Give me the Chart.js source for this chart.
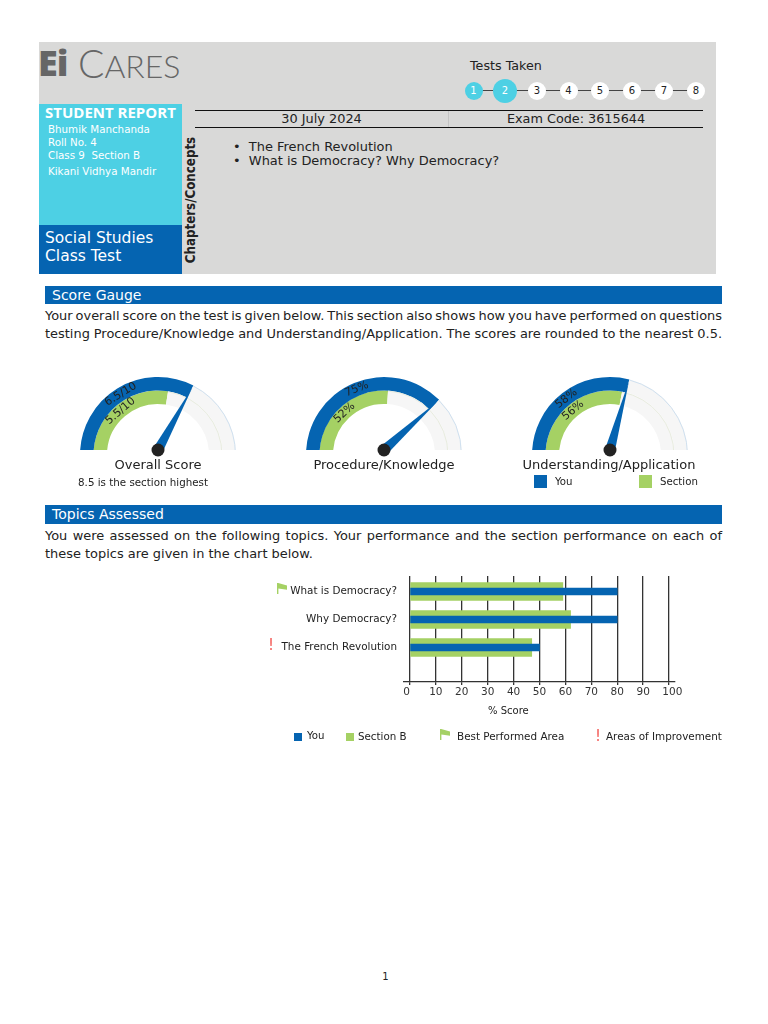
<!DOCTYPE html>
<html>
<head>
<meta charset="utf-8">
<script src="https://cdn.jsdelivr.net/npm/chart.js@4"></script>
<style>
html,body{margin:0;padding:0;background:#fff;}
body{width:768px;height:1024px;position:relative;overflow:hidden;font-family:"DejaVu Sans",sans-serif;color:#222;}
.a{position:absolute;white-space:nowrap;}
.c{transform:translateX(-50%);}
canvas{position:absolute;}
.band{position:absolute;left:45px;width:677px;background:#0564b1;color:#fff;font-size:14px;padding-left:7px;box-sizing:border-box;}
.para{position:absolute;left:45px;width:677px;font-size:12.95px;line-height:18px;word-spacing:-2.5px;text-align:justify;text-align-last:justify;}
.dot{position:absolute;border-radius:50%;background:#fff;color:#222;font-size:10px;text-align:center;transform:translate(-50%,-50%);}
.on{background:#4dd0e4;color:#fff;}
.flag{position:absolute;width:10px;height:11px;background:#a5d164;clip-path:polygon(0 0,12% 0,100% 22%,100% 62%,14% 50%,14% 100%,0 100%);}
.bang{position:absolute;color:#f4605c;font-size:15px;line-height:15px;}
.sq{position:absolute;}
</style>
</head>
<body>
<div class="a" style="left:39px;top:42px;width:677px;height:232px;background:#d9d9d8"></div>
<div class="a" style="left:39px;top:104px;width:143px;height:121px;background:#4dd0e4"></div>
<div class="a" style="left:39px;top:225px;width:143px;height:49px;background:#0564b1"></div>

<div class="a" style="left:38px;top:41px;font:900 36px/44px 'Open Sans';color:#666;letter-spacing:-1px">Ei</div>
<div class="a" style="left:78px;top:41px;font:300 39px/44px Lato;color:#666">C<span style="font-size:32px">ARES</span></div>

<div class="a" style="left:45px;top:103px;font:700 15px/18px 'Open Sans';color:#fff">STUDENT REPORT</div>
<div class="a" style="left:48px;top:123px;font-size:10.3px;line-height:13px;color:#fff">Bhumik Manchanda<br>Roll No. 4<br>Class 9&nbsp; Section B</div>
<div class="a" style="left:48px;top:165px;font-size:10.3px;line-height:13px;color:#fff">Kikani Vidhya Mandir</div>
<div class="a" style="left:45px;top:229px;font-size:15.5px;line-height:18px;color:#fff">Social Studies<br>Class Test</div>

<div class="a" style="left:470px;top:58px;font-size:12.7px">Tests Taken</div>
<div class="a" style="left:473px;top:90px;width:223px;height:1px;background:#444"></div>
<div id="steps"></div>

<div class="a" style="left:195px;top:110px;width:508px;height:1px;background:#111"></div>
<div class="a" style="left:195px;top:127px;width:508px;height:1px;background:#111"></div>
<div class="a" style="left:448px;top:111px;width:1px;height:16px;background:#c4c4c4"></div>
<div class="a c" style="left:321.5px;top:111px;font-size:12.9px;line-height:15px">30 July 2024</div>
<div class="a c" style="left:576px;top:111px;font-size:12.8px;line-height:15px">Exam Code: 3615644</div>
<div class="a" style="left:191px;top:200px;font:700 13.2px/16px 'DejaVu Sans Condensed','DejaVu Sans';transform:translate(-50%,-50%) rotate(-90deg)">Chapters/Concepts</div>
<div class="a" style="left:233px;top:139px;font-size:12.95px;line-height:14px;padding-top:1px">&bull;&nbsp; The French Revolution<br>&bull;&nbsp; What is Democracy? Why Democracy?</div>

<div class="band" style="top:286px;height:18px;line-height:18px">Score Gauge</div>
<div class="para" style="top:307px">Your overall score on the test is given below. This section also shows how you have performed on questions<br>testing Procedure/Knowledge and Understanding/Application. The scores are rounded to the nearest 0.5.</div>

<canvas id="g0" width="160" height="83" style="left:78px;top:375px"></canvas>
<canvas id="g1" width="160" height="83" style="left:304px;top:375px"></canvas>
<canvas id="g2" width="160" height="83" style="left:529.5px;top:375px"></canvas>

<div class="a c" style="left:158px;top:457px;font-size:13px">Overall Score</div>
<div class="a c" style="left:384px;top:457px;font-size:13px">Procedure/Knowledge</div>
<div class="a c" style="left:609px;top:457px;font-size:13px">Understanding/Application</div>
<div class="a c" style="left:143px;top:476px;font-size:10.3px">8.5 is the section highest</div>
<div class="sq" style="left:534px;top:475px;width:13px;height:13px;background:#0564b1"></div>
<div class="a" style="left:555px;top:476px;font-size:10.2px">You</div>
<div class="sq" style="left:639px;top:475px;width:13px;height:13px;background:#a5d164"></div>
<div class="a" style="left:660px;top:476px;font-size:10.2px">Section</div>

<div class="band" style="top:505px;height:19px;line-height:19px">Topics Assessed</div>
<div class="para" style="top:527px">You were assessed on the following topics. Your performance and the section performance on each of<br><span style="display:inline-block;text-align-last:left;word-spacing:0">these topics are given in the chart below.</span></div>

<canvas id="bars" width="430" height="150" style="left:260px;top:570px"></canvas>
<div class="flag" style="left:277px;top:583px"></div>
<div class="bang" style="left:268px;top:638px">!</div>
<div class="a" style="left:488px;top:705px;font-size:10px">% Score</div>

<div class="sq" style="left:294px;top:733px;width:8px;height:8px;background:#0564b1"></div>
<div class="a" style="left:307px;top:730px;font-size:10.2px">You</div>
<div class="sq" style="left:346px;top:733px;width:8px;height:8px;background:#a5d164"></div>
<div class="a" style="left:358px;top:730px;font-size:10.3px">Section B</div>
<div class="flag" style="left:440px;top:729px"></div>
<div class="a" style="left:457px;top:730px;font-size:10.4px">Best Performed Area</div>
<div class="bang" style="left:595px;top:729px">!</div>
<div class="a" style="left:606px;top:730px;font-size:10.4px">Areas of Improvement</div>

<div class="a c" style="left:385.5px;top:971px;font-size:10px">1</div>

<script>
const BLUE = '#0564b1';
const GREEN = '#a5d164';
const REST = '#f6f6f6';

// gauges, in percent of the half circle
const gaugeYou = [65, 75, 58];
const gaugeSection = [55, 52, 56];
const gaugeYouText = ['6.5/10', '75%', '58%'];
const gaugeSectionText = ['5.5/10', '52%', '56%'];

// topics chart
const topics = ['What is Democracy?', 'Why Democracy?', 'The French Revolution'];
const youScores = [80, 80, 50];
const sectionScores = [59, 62, 47];
const scoreTicks = [0, 10, 20, 30, 40, 50, 60, 70, 80, 90, 100];

// test steps in the header
const stepNumbers = [1, 2, 3, 4, 5, 6, 7, 8];
const stepsOn = [1, 2];
const stepX = [473.5, 505, 537, 568.5, 600, 632, 664, 696];

// the rings are cut off a bit above their centre, the needle turns on that cut
const CUT = 5;

stepNumbers.forEach(function (n, i) {
  const d = document.createElement('div');
  const size = n === 2 ? 24 : 18;
  d.className = 'dot' + (stepsOn.includes(n) ? ' on' : '');
  d.style.cssText = 'left:' + stepX[i] + 'px;top:91px;width:' + size + 'px;height:' + size + 'px;line-height:' + size + 'px';
  d.textContent = n;
  document.getElementById('steps').appendChild(d);
});

function arcText(ctx, arc, text) {
  const mid = (arc.startAngle + arc.endAngle) / 2;
  const r = (arc.innerRadius + arc.outerRadius) / 2;
  ctx.save();
  ctx.translate(arc.x + Math.cos(mid) * r, arc.y + Math.sin(mid) * r);
  ctx.rotate(mid + Math.PI / 2);
  ctx.fillStyle = '#222';
  ctx.font = '11px "DejaVu Sans"';
  ctx.textAlign = 'center';
  ctx.textBaseline = 'middle';
  ctx.fillText(text, 0, 0);
  ctx.restore();
}

const gaugePlugin = {
  id: 'gaugeExtras',
  beforeDatasetsDraw: function (chart) {
    const ctx = chart.ctx;
    const a = chart.getDatasetMeta(0).data[0];
    ctx.save();
    ctx.beginPath();
    ctx.rect(0, 0, chart.width, a.y - CUT);
    ctx.clip();
  },
  afterDatasetsDraw: function (chart) {
    const ctx = chart.ctx;
    const a = chart.getDatasetMeta(0).data[0];
    const b = chart.getDatasetMeta(1).data[0];

    // faint edges on the empty part of the rings
    ctx.lineWidth = 1;
    ctx.strokeStyle = '#cfe0ef';
    ctx.beginPath();
    ctx.arc(a.x, a.y, a.outerRadius - 0.5, a.endAngle, 0);
    ctx.stroke();
    ctx.strokeStyle = '#e8ecdf';
    ctx.beginPath();
    ctx.arc(b.x, b.y, b.outerRadius - 0.5, b.endAngle, 0);
    ctx.stroke();
    ctx.restore();
  },
  afterDraw: function (chart) {
    const ctx = chart.ctx;
    const i = chart.options.gaugeIndex;
    const a = chart.getDatasetMeta(0).data[0];
    const b = chart.getDatasetMeta(1).data[0];

    arcText(ctx, a, gaugeYouText[i]);
    arcText(ctx, b, gaugeSectionText[i]);

    // needle, from the pivot to the end of the blue ring
    const px = a.x;
    const py = a.y - CUT;
    const tx = a.x + Math.cos(a.endAngle) * (a.outerRadius - 2);
    const ty = a.y + Math.sin(a.endAngle) * (a.outerRadius - 2);
    const ang = Math.atan2(ty - py, tx - px);
    const nx = Math.cos(ang + Math.PI / 2) * 5;
    const ny = Math.sin(ang + Math.PI / 2) * 5;
    ctx.fillStyle = BLUE;
    ctx.beginPath();
    ctx.moveTo(px + nx, py + ny);
    ctx.lineTo(tx, ty);
    ctx.lineTo(px - nx, py - ny);
    ctx.fill();
    ctx.fillStyle = '#222';
    ctx.beginPath();
    ctx.arc(px, py, 6.5, 0, Math.PI * 2);
    ctx.fill();
  }
};

gaugeYou.forEach(function (v, i) {
  new Chart(document.getElementById('g' + i), {
    type: 'doughnut',
    data: {
      labels: ['Score', 'Rest'],
      datasets: [
        { data: [v, 100 - v], backgroundColor: [BLUE, REST], borderWidth: 0 },
        { data: [gaugeSection[i], 100 - gaugeSection[i]], backgroundColor: [GREEN, REST], borderWidth: 0 }
      ]
    },
    options: {
      gaugeIndex: i,
      responsive: false,
      animation: false,
      rotation: -90,
      circumference: 180,
      cutout: '65.4%',
      layout: { padding: { left: 2, right: 2, top: 2, bottom: 3 } },
      plugins: { legend: { display: false }, tooltip: { enabled: false } }
    },
    plugins: [gaugePlugin]
  });
});

// the end labels sit a little outside their grid lines
function scoreLabel(v) {
  if (v === scoreTicks[0]) return v + '\u00a0\u00a0';
  if (v === scoreTicks[scoreTicks.length - 1]) return '\u00a0\u00a0' + v;
  return v;
}

function noPad(ax) {
  ax.paddingTop = 0;
  ax.paddingBottom = 0;
  ax.paddingLeft = 0;
  ax.paddingRight = 0;
}

new Chart(document.getElementById('bars'), {
  type: 'bar',
  data: {
    datasets: [
      { label: 'You', data: youScores.map((v, i) => ({ x: v, y: i })), backgroundColor: BLUE, barThickness: 7 },
      { label: 'Section B', data: sectionScores.map((v, i) => ({ x: v, y: i })), backgroundColor: GREEN, barThickness: 18 }
    ]
  },
  options: {
    indexAxis: 'y',
    responsive: false,
    animation: false,
    grouped: false,
    layout: { padding: { top: 6, right: 15 } },
    plugins: { legend: { display: false }, tooltip: { enabled: false } },
    scales: {
      x: {
        type: 'linear',
        min: -2.3,
        max: 102.3,
        afterBuildTicks: function (ax) { ax.ticks = scoreTicks.map(v => ({ value: v })); },
        afterFit: function (ax) { ax.height = 38; noPad(ax); },
        grid: { color: '#333', lineWidth: 1.3, tickLength: 3 },
        border: { color: '#333', width: 1.3 },
        ticks: { color: '#333', font: { family: 'DejaVu Sans', size: 10.5 }, padding: 1, maxRotation: 0, autoSkip: false, callback: scoreLabel }
      },
      y: {
        type: 'linear',
        reverse: true,
        offset: false,
        min: -0.554,
        max: 3.232,
        afterBuildTicks: function (ax) { ax.ticks = topics.map((t, i) => ({ value: i })); },
        afterFit: function (ax) { ax.width = 144; noPad(ax); },
        grid: { display: false, drawTicks: false, offset: false },
        border: { display: false },
        ticks: { color: '#222', font: { family: 'DejaVu Sans', size: 10.4 }, padding: 7, autoSkip: false, callback: v => topics[v] }
      }
    }
  }
});
</script>
</body>
</html>
